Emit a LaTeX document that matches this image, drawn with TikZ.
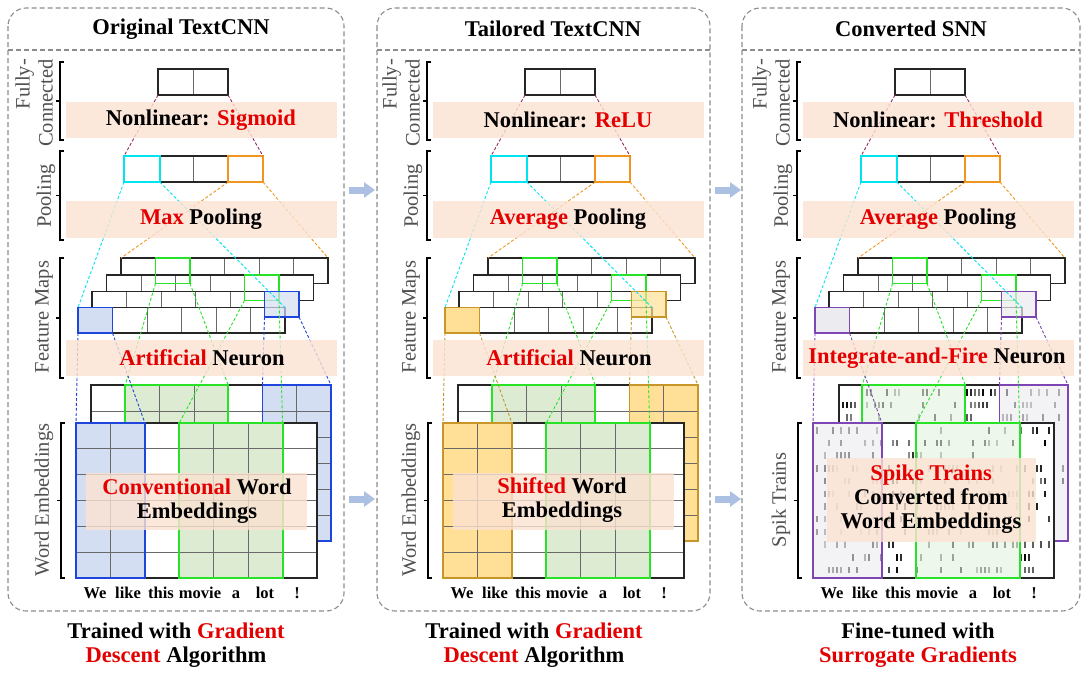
\documentclass[tikz,border=0pt]{standalone}
\usepackage{fontspec}
\setmainfont{Liberation Serif}
\usetikzlibrary{arrows.meta}
\definecolor{bandc}{RGB}{252,226,210}
\definecolor{redt}{RGB}{228,0,0}
\definecolor{cyanc}{RGB}{0,228,240}
\definecolor{orangec}{RGB}{240,150,30}
\definecolor{greenc}{RGB}{40,226,40}
\definecolor{greenf}{RGB}{220,235,210}
\definecolor{greenfb}{RGB}{228,243,222}
\definecolor{bluec}{RGB}{30,70,220}
\definecolor{bluef}{RGB}{212,222,242}
\definecolor{goldc}{RGB}{200,150,40}
\definecolor{goldf}{RGB}{255,224,150}
\definecolor{purc}{RGB}{125,70,180}
\definecolor{purf}{RGB}{236,236,240}
\definecolor{maroonc}{RGB}{150,40,100}
\definecolor{arrowc}{RGB}{172,192,228}
\definecolor{labc}{RGB}{80,80,80}
\definecolor{dashc}{RGB}{140,140,140}
\definecolor{gridc}{RGB}{105,105,105}
\tikzset{
 panelbox/.style={draw=dashc, dash pattern=on 5pt off 3pt, line width=1.1pt, rounded corners=18pt},
 sepline/.style={draw=dashc, dash pattern=on 5pt off 3pt, line width=1.1pt},
 band/.style={fill=bandc, fill opacity=0.8},
 bt/.style={font=\fontsize{22.5}{24}\selectfont\bfseries, align=center, inner sep=0pt},
 lab/.style={font=\fontsize{20.5}{23}\selectfont, text=labc, rotate=90, inner sep=0pt},
 ttl/.style={font=\fontsize{22.5}{24}\selectfont\bfseries, inner sep=0pt},
 word/.style={font=\fontsize{16.5}{18}\selectfont\bfseries, inner sep=0pt, anchor=base},
 captext/.style={font=\fontsize{22.5}{24}\selectfont\bfseries, align=center, inner sep=0pt},
 brace/.style={line width=1.1pt, draw=black},
 cellbox/.style={draw=black!85, line width=1.2pt},
 gline/.style={draw=gridc, line width=0.8pt},
 conn/.style={dash pattern=on 3pt off 2pt, line width=0.9pt},
 hlb/.style={line width=1.8pt},
 flow/.style={draw=arrowc, line width=7pt, -{Triangle[length=11pt,width=15pt]}},
}
\newif\ifspk
\newcommand\brk[3]{%
 \draw[brace] ({#1+4},#2) -- (#1,#2) -- (#1,#3) -- ({#1+4},#3);
 \draw[brace] (#1,{(#2+#3)/2}) -- ({#1-4},{(#2+#3)/2});}
\newcommand\frow[2]{%
 \fill[white] (#1,#2) rectangle ++(207,25.5);
 \foreach \k in {1,...,5}{\draw[gline] ({#1+\k*34.5},#2) -- ++(0,25.5);}
 \draw[cellbox] (#1,#2) rectangle ++(207,25.5);}
\newcommand\lgrid[6]{% x0 y0 w h colw rowh
 \foreach \k in {1,...,6}{\draw[gline] ({#1+\k*#5},#2) -- ++(0,#4);}
 \foreach \k in {1,...,5}{\draw[gline] (#1,{#2+\k*#6}) -- ++(#3,0);}}
\newcommand\spikes[3]{% x0 y0 w
 \pgfmathtruncatemacro\nc{(#3-6)/4}
 \foreach \r in {0,...,11}{
  \foreach \i in {0,...,\nc}{
   \pgfmathrandominteger{\q}{0}{99}
   \ifnum\q<26
     \pgfmathrandominteger{\s}{45}{100}
     \fill[black!\s] ({#1+3+\i*4},{#2+4+\r*12.7}) rectangle ++(1.7,6.5);
   \fi
  }}}
% #1 prefix, #2 shift, #3 hl colour, #4 hl fill, #5 green fill, #6 bottom label, #7 back layer x
\newcommand\drawpanel[7]{%
\begin{scope}[xshift=#2pt]
 \brk{60}{62}{140}
 \brk{60}{151}{240}
 \brk{60}{258}{378}
 \brk{61}{423}{578}
 \node[lab, align=right] (#1l1) at (34,103) {Fully-\\Connected};
 \node[lab] (#1l2) at (46,196) {Pooling};
 \node[lab] (#1l3) at (44,317) {Feature Maps};
 \node[lab] (#1l4) at (44,500) {#6};
 % fully connected
 \fill[white] (158,69) rectangle (228,95);
 \draw[gline] (193,69) -- (193,95);
 \draw[cellbox] (158,69) rectangle (228,95);
 % pooling
 \draw[gline] (193.5,156) -- (193.5,182);
 \draw[cellbox] (124,156) rectangle (263,182);
 \draw[hlb,cyanc] (124,156) rectangle (159.75,182);
 \draw[hlb,orangec] (228.25,156) rectangle (263,182);
 % feature maps
 \frow{121}{258}\frow{106.5}{275}\frow{92}{291.5}\frow{78}{307.5}
 \draw[hlb,greenc] (155.5,258) rectangle (190,283.5);
 \draw[hlb,greenc] (244.5,275) rectangle (279,300.5);
 \draw[hlb,#3,fill=#4,fill opacity=0.7] (264.5,291.5) rectangle (299,317);
 \draw[hlb,#3,fill=#4] (78,307.5) rectangle (112.5,333);
 % back embedding layer
 \fill[white] (#7,385) rectangle (331,541);
 \ifspk
  \spikes{#7}{385}{229}
  \fill[#5,opacity=0.6] (125.3,385) rectangle (228.2,541);
  \fill[#4,opacity=0.6] (262.5,385) rectangle (331,541);
 \else
  \fill[#5] (125.3,385) rectangle (228.2,541);
  \fill[#4] (262.5,385) rectangle (331,541);
  \lgrid{91}{385}{240}{156}{34.3}{26}
 \fi
 \draw[cellbox] (#7,385) rectangle (331,541);
 \draw[hlb,greenc] (125.3,385) rectangle (228.2,541);
 \draw[hlb,#3] (262.5,385) rectangle (331,541);
 % front embedding layer
 \fill[white] (76,423) rectangle (317,578);
 \ifspk
  \spikes{76}{423}{241}
  \fill[#4,opacity=0.6] (76,423) rectangle (144.9,578);
  \fill[#5,opacity=0.6] (179.3,423) rectangle (282.6,578);
 \else
  \fill[#4] (76,423) rectangle (144.9,578);
  \fill[#5] (179.3,423) rectangle (282.6,578);
  \lgrid{76}{423}{241}{155}{34.43}{25.83}
 \fi
 \draw[cellbox] (76,423) rectangle (317,578);
 \draw[hlb,#3] (76,423) rectangle (144.9,578);
 \draw[hlb,greenc] (179.3,423) rectangle (282.6,578);
 % connector ends
 \coordinate (#1fcL) at (158,95); \coordinate (#1fcR) at (228,95);
 \coordinate (#1pTL) at (124,156); \coordinate (#1pTR) at (263,156);
 \coordinate (#1cyL) at (124,182); \coordinate (#1cyR) at (159.75,182);
 \coordinate (#1orL) at (228.25,182); \coordinate (#1orR) at (263,182);
 \coordinate (#1aL) at (121,258); \coordinate (#1aR) at (328,258);
 \coordinate (#1dL) at (78,307.5); \coordinate (#1dR) at (285,307.5);
 \coordinate (#1agL) at (155.5,283.5); \coordinate (#1agR) at (190,283.5);
 \coordinate (#1bgL) at (244.5,300.5); \coordinate (#1bgR) at (279,300.5);
 \coordinate (#1chL) at (264.5,317); \coordinate (#1chR) at (299,317);
 \coordinate (#1dhL) at (78,333); \coordinate (#1dhR) at (112.5,333);
 \coordinate (#1egL) at (125.3,385); \coordinate (#1egR) at (228.2,385);
 \coordinate (#1ehL) at (262.5,385); \coordinate (#1ehR) at (331,385);
 \coordinate (#1fhL) at (76,423); \coordinate (#1fhR) at (144.9,423);
 \coordinate (#1fgL) at (179.3,423); \coordinate (#1fgR) at (282.6,423);
 \draw[conn,maroonc] (#1fcL) -- (#1pTL) (#1fcR) -- (#1pTR);
 \draw[conn,cyanc] (#1cyL) -- (#1dL) (#1cyR) -- (#1dR);
 \draw[conn,orangec] (#1orL) -- (#1aL) (#1orR) -- (#1aR);
 \draw[conn,greenc] (#1agL) -- (#1egL) (#1agR) -- (#1egR) (#1bgL) -- (#1fgL) (#1bgR) -- (#1fgR);
 \draw[conn,#3] (#1dhL) -- (#1fhL) (#1dhR) -- (#1fhR) (#1chL) -- (#1ehL) (#1chR) -- (#1ehR);
 % bands
 \fill[band] (66,102) rectangle (337,138);
 \fill[band] (66,201) rectangle (337,238);
 \fill[band] (66,340) rectangle (337,376);
 \ifspk \fill[band] (90,458) rectangle (299,542);
 \else \fill[band] (86,473) rectangle (307,530); \fi
 % words
 \node[word] (#1w1) at (95,598) {We};
 \node[word] (#1w2) at (128,598) {like};
 \node[word] (#1w3) at (161,598) {this};
 \node[word] (#1w4) at (200,598) {movie};
 \node[word] (#1w5) at (236,598) {a};
 \node[word] (#1w6) at (265,598) {lot};
 \node[word] (#1w7) at (297,598) {!};
\end{scope}}
\begin{document}
\begin{tikzpicture}[x=1pt,y=-1pt]
\useasboundingbox (0,0) rectangle (1089,675);
\fill[white] (0,0) rectangle (1089,675);
\pgfmathsetseed{4242}
% panels
\draw[panelbox] (8,8) rectangle (344,611);
\draw[sepline] (8,50) -- (344,50);
\draw[panelbox] (377,8) rectangle (710,611);
\draw[sepline] (377,50) -- (710,50);
\draw[panelbox] (742,8) rectangle (1080,611);
\draw[sepline] (742,50) -- (1080,50);
\node[ttl] (t1) at (181,29) {Original TextCNN};
\node[ttl] (t2) at (553,29) {Tailored TextCNN};
\node[ttl] (t3) at (911,29) {Converted SNN};
% arrows between panels
\coordinate (a1s) at (349,190); \coordinate (a1e) at (375,190);
\coordinate (a2s) at (349,499); \coordinate (a2e) at (375,499);
\coordinate (a3s) at (715,190); \coordinate (a3e) at (741,190);
\coordinate (a4s) at (715,499); \coordinate (a4e) at (741,499);
\draw[flow] (a1s) -- (a1e);
\draw[flow] (a2s) -- (a2e);
\draw[flow] (a3s) -- (a3e);
\draw[flow] (a4s) -- (a4e);
% panel contents
\spkfalse
\drawpanel{p1}{0}{bluec}{bluef}{greenf}{Word Embeddings}{91}
\drawpanel{p2}{367}{goldc}{goldf}{greenf}{Word Embeddings}{91}
\spktrue
\drawpanel{p3}{737}{purc}{purf}{greenfb}{Spik Trains}{102}
% band texts
\begin{scope}[xshift=0pt]
\node[bt] (p1n1) at (201,120) {Nonlinear: \textcolor{redt}{Sigmoid}};
\node[bt] (p1n2) at (201,219) {\textcolor{redt}{Max} Pooling};
\node[bt] (p1n3) at (202,358) {\textcolor{redt}{Artificial} Neuron};
\node[bt] (p1n4) at (197,501) {\textcolor{redt}{Conventional} Word\\Embeddings};
\end{scope}
\begin{scope}[xshift=367pt]
\node[bt] (p2n1) at (201,120) {Nonlinear: \textcolor{redt}{ReLU}};
\node[bt] (p2n2) at (201,219) {\textcolor{redt}{Average} Pooling};
\node[bt] (p2n3) at (202,358) {\textcolor{redt}{Artificial} Neuron};
\node[bt] (p2n4) at (195,500) {\textcolor{redt}{Shifted} Word\\Embeddings};
\end{scope}
\begin{scope}[xshift=737pt]
\node[bt] (p3n1) at (201,120) {Nonlinear: \textcolor{redt}{Threshold}};
\node[bt] (p3n2) at (201,219) {\textcolor{redt}{Average} Pooling};
\node[bt] (p3n3) at (200,358) {\textcolor{redt}{Integrate-and-Fire} Neuron};
\node[bt] (p3n4) at (194,499) {\textcolor{redt}{Spike Trains}\\Converted from\\Word Embeddings};
\end{scope}
% captions
\node[captext] (c1) at (176,645) {Trained with \textcolor{redt}{Gradient}\\\textcolor{redt}{Descent} Algorithm};
\node[captext] (c2) at (534,645) {Trained with \textcolor{redt}{Gradient}\\\textcolor{redt}{Descent} Algorithm};
\node[captext] (c3) at (918,645) {Fine-tuned with\\\textcolor{redt}{Surrogate Gradients}};
\end{tikzpicture}
\end{document}
